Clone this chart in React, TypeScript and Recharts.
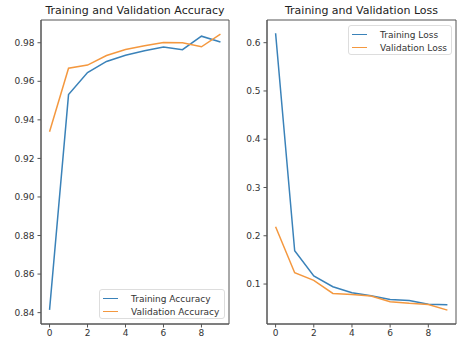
import React from "react";
import { LineChart, Line, XAxis, YAxis, ReferenceArea } from "recharts";

const epochs = [0, 1, 2, 3, 4, 5, 6, 7, 8, 9];
const trainAcc = [0.8414, 0.9531, 0.9645, 0.9703, 0.9735, 0.9758, 0.9778, 0.9764, 0.9834, 0.9804];
const valAcc = [0.9338, 0.9668, 0.9684, 0.9734, 0.9765, 0.9784, 0.9801, 0.98, 0.9779, 0.9845];
const trainLoss = [0.6195, 0.169, 0.1166, 0.0945, 0.082, 0.0758, 0.068, 0.066, 0.058, 0.057];
const valLoss = [0.2186, 0.1234, 0.1076, 0.0805, 0.0785, 0.0751, 0.0633, 0.06, 0.0576, 0.046];
const xTicks = [0, 2, 4, 6, 8];
const accTicks = [0.84, 0.86, 0.88, 0.9, 0.92, 0.94, 0.96, 0.98];
const lossTicks = [0.1, 0.2, 0.3, 0.4, 0.5, 0.6];

const BLUE = "#3a82b9";
const ORANGE = "#f4983f";
const FRAME = "#555";
const TXT = "#333";
const FONT = "DejaVu Sans";
const X_DOMAIN: [number, number] = [-0.45, 9.45];

const accData = epochs.map((e, i) => ({ epoch: e, train: trainAcc[i], val: valAcc[i] }));
const lossData = epochs.map((e, i) => ({ epoch: e, train: trainLoss[i], val: valLoss[i] }));

const tickStyle = { fontSize: 9, fill: TXT, fontFamily: FONT };

function Panel(props: {
  left: number;
  data: any[];
  yTicks: number[];
  yDomain: [number, number];
  yWidth: number;
  marginRight: number;
  digits: number;
  title: string;
  trainName: string;
  valName: string;
  legend: { left: number; top: number; width: number };
}) {
  const { left, data, yTicks, yDomain, yWidth, marginRight, digits, title, trainName, valName, legend } = props;
  const plotLeft = yWidth;
  const plotRight = 237 - marginRight;
  return (
    <div style={{ position: "absolute", left, top: 0, width: 237, height: 351 }}>
      <div
        style={{
          position: "absolute",
          left: plotLeft,
          width: plotRight - plotLeft,
          top: 4,
          textAlign: "center",
          fontFamily: FONT,
          fontSize: 11,
          color: "#222",
          lineHeight: "13px",
          whiteSpace: "nowrap",
        }}
      >
        {title}
      </div>
      <LineChart width={237} height={351} data={data} margin={{ top: 20, right: marginRight, bottom: 7, left: 0 }}>
        <XAxis
          dataKey="epoch"
          type="number"
          domain={X_DOMAIN}
          ticks={xTicks}
          allowDataOverflow
          height={20}
          tickSize={3.5}
          tickMargin={2}
          stroke={FRAME}
          tick={tickStyle}
          tickLine={{ stroke: FRAME }}
        />
        <YAxis
          type="number"
          domain={yDomain}
          ticks={yTicks}
          allowDataOverflow
          width={yWidth}
          tickSize={3.5}
          tickMargin={3}
          stroke={FRAME}
          tick={tickStyle}
          tickLine={{ stroke: FRAME }}
          tickFormatter={(v: number) => v.toFixed(digits)}
        />
        <ReferenceArea
          x1={X_DOMAIN[0]}
          x2={X_DOMAIN[1]}
          y1={yDomain[0]}
          y2={yDomain[1]}
          fill="none"
          fillOpacity={0}
          stroke={FRAME}
          strokeWidth={1}
          ifOverflow="visible"
        />
        <Line dataKey="train" name={trainName} stroke={BLUE} strokeWidth={1.5} dot={false} isAnimationActive={false} />
        <Line dataKey="val" name={valName} stroke={ORANGE} strokeWidth={1.5} dot={false} isAnimationActive={false} />
      </LineChart>
      <div
        style={{
          position: "absolute",
          left: legend.left,
          top: legend.top,
          width: legend.width,
          height: 30,
          border: "1px solid #ddd",
          borderRadius: 3,
          background: "rgba(255,255,255,0.8)",
          fontFamily: FONT,
          fontSize: 9,
          color: TXT,
          boxSizing: "border-box",
          padding: "2px 0 0 0",
        }}
      >
        {[
          { name: trainName, color: BLUE },
          { name: valName, color: ORANGE },
        ].map((it) => (
          <div key={it.name} style={{ display: "flex", alignItems: "center", height: 13 }}>
            <span style={{ display: "inline-block", width: 15, height: 1.5, background: it.color, marginLeft: 3, marginRight: 13 }} />
            <span style={{ whiteSpace: "nowrap" }}>{it.name}</span>
          </div>
        ))}
      </div>
    </div>
  );
}

export default function App() {
  return (
    <div style={{ position: "absolute", left: 0, top: 0, width: 474, height: 351, background: "#fff" }}>
      <Panel
        left={0}
        data={accData}
        yTicks={accTicks}
        yDomain={[0.8341, 0.9918]}
        yWidth={41}
        marginRight={8}
        digits={2}
        title="Training and Validation Accuracy"
        trainName="Training Accuracy"
        valName="Validation Accuracy"
        legend={{ left: 99, top: 289, width: 126 }}
      />
      <Panel
        left={237}
        data={lossData}
        yTicks={lossTicks}
        yDomain={[0.0172, 0.647]}
        yWidth={30}
        marginRight={18}
        digits={1}
        title="Training and Validation Loss"
        trainName="Training Loss"
        valName="Validation Loss"
        legend={{ left: 111, top: 25, width: 104 }}
      />
    </div>
  );
}
